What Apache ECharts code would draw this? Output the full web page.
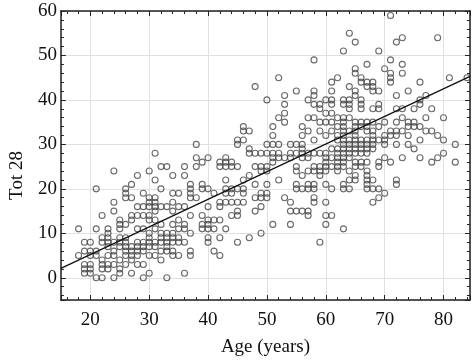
<!DOCTYPE html>
<html>
<head>
<meta charset="utf-8">
<script src="https://cdn.jsdelivr.net/npm/echarts@6/dist/echarts.min.js"></script>
<style>
html,body{margin:0;padding:0;background:#fff;}
#chart{width:474px;height:362px;}
</style>
</head>
<body>
<div id="chart"></div>
<script>
// ---- data ----
const xTickLabels = ['20','30','40','50','60','70','80'];
const yTickLabels = ['0','10','20','30','40','50','60'];

const ages18to29 = [18,19,20,21,22,23,24,25,26,27,28,29];
const tot18to29 = [
  [11,5],
  [8,6,3,2,1],
  [8,6,5,3,2,1],
  [20,11,6,5,0],
  [14,9,8,4,3,2,0],
  [11,10,9,8,7,5,3,2],
  [24,17,15,8,6,5,3,0],
  [13,12,11,9,8,7,4,2,1],
  [20,19,18,12,9,8,7,6,5,3],
  [21,18,14,13,7,6,5,4,1],
  [23,16,14,11,8,7,6,5,3],
  [19,16,14,11,8,7,6,3,0]
];
const ages30to41 = [30,31,32,33,34,35,36,37,38,39,40,41];
const tot30to41 = [
  [24,18,17,16,14,13,10,9,8,7,5,1],
  [28,22,18,17,16,15,13,11,8,7,5],
  [25,20,16,12,10,9,8,6,4],
  [25,16,10,9,8,7,6,0],
  [23,19,17,15,12,10,9,8,6,5],
  [19,16,13,11,9,8,5],
  [25,23,16,12,11,8,1],
  [21,20,19,18,14,10,6,5],
  [30,27,25,18],
  [26,21,20,14,12,11],
  [27,20,16,13,12,11,9,8],
  [19,13,11,6]
];
const ages42to53 = [42,43,44,45,46,47,48,49,50,51,52,53];
const tot42to53 = [
  [26,25,17,16,13,9,5],
  [27,26,25,22,20,19,17,11],
  [26,25,20,19,17,14],
  [31,30,25,20,17,15,14,8],
  [34,33,31,22,20,19,17],
  [33,29,28,23,9],
  [43,28,25,21,18,15],
  [28,25,24,19,18,16,10],
  [40,30,28,25,24,21,19,18],
  [34,32,30,28,27,26,12],
  [45,36,30,28,27,22],
  [41,39,37,35,27,18]
];
const ages54to65 = [54,55,56,57,58,59,60,61,62,63,64,65];
const tot54to65 = [
  [30,28,27,17,15,12],
  [42,30,28,25,24,21,20,15],
  [34,32,30,29,28,27,23,20,15],
  [40,36,33,28,27,24,21,20,15,14],
  [49,42,41,39,36,31,28,25,24,21,20,18,17],
  [39,38,35,33,28,25,24,23,8],
  [40,37,35,32,28,27,26,25,24,21,17,14,12],
  [44,42,40,39,37,35,33,29,27,25,20,14],
  [45,36,34,32,31,29,28,27,26,25,24],
  [51,40,39,36,35,34,33,32,31,30,29,28,27,26,25,21,20,11],
  [55,43,40,39,38,36,33,31,30,29,28,27,24,22,20],
  [53,47,46,42,41,35,34,33,32,31,30,29,28,26,25,23,22]
];
const ages66to84 = [66,67,68,69,70,71,72,73,74,75,76,77,78,79,80,81,82,84];
const tot66to84 = [
  [45,44,40,39,38,35,34,31,30,29,28,26,25],
  [48,44,43,35,34,33,31,30,29,28,26,24,23,22,21,20],
  [44,43,42,38,35,33,32,31,30,29,22,20,17],
  [51,42,39,38,34,31,26,25,20,18],
  [47,35,32,31,30,27,19],
  [59,49,46,45,44,33,32,26],
  [53,41,38,35,33,32,30,22,21],
  [54,48,46,38,36,33,27],
  [42,35,34,32,30],
  [38,35,34,29],
  [44,40,39,34,31,27],
  [41,36,33],
  [38,33,26],
  [54,32,27],
  [36,31,28],
  [45],
  [30,26],
  [45]
];
// regression line end points
const fitAge = [15, 84.5];
const fitTot = [2.1, 45.3];

// ---- build ----
function pairs(ages, tots){
  const out = [];
  ages.forEach((a,i)=>tots[i].forEach(t=>out.push([a,t])));
  return out;
}
const scatterData = [].concat(
  pairs(ages18to29, tot18to29),
  pairs(ages30to41, tot30to41),
  pairs(ages42to53, tot42to53),
  pairs(ages54to65, tot54to65),
  pairs(ages66to84, tot66to84)
);
const lineData = fitAge.map((a,i)=>[a, fitTot[i]]);

const FONT = '"Liberation Serif", "DejaVu Serif", serif';
const boxColor = '#222';
function xAx(pos, show){
  return {
    type:'value', position:pos, min:15, max:84.5, splitNumber:5,
    axisLine:{show:true, onZero:false, lineStyle:{color:boxColor, width:1.5}},
    axisTick:{show:true, inside:true, length:5, lineStyle:{color:boxColor}},
    minorTick:{show:true, splitNumber:5, length:3, lineStyle:{color:boxColor}},
    axisLabel:{show:show, showMinLabel:false, showMaxLabel:false, margin:11,
      color:'#111', fontFamily:FONT, fontSize:19,
      formatter:v=> xTickLabels.includes(String(v)) ? String(v) : ''},
    splitLine:{show:show, lineStyle:{color:'#e0e0e0', width:1}},
    name: show ? 'Age (years)' : '', nameLocation:'middle', nameGap:38,
    nameTextStyle:{color:'#111', fontFamily:FONT, fontSize:19}
  };
}
function yAx(pos, show){
  return {
    type:'value', position:pos, min:-5, max:60, splitNumber:5,
    axisLine:{show:true, onZero:false, lineStyle:{color:boxColor, width:1.5}},
    axisTick:{show:true, inside:true, length:5, lineStyle:{color:boxColor}},
    minorTick:{show:true, splitNumber:5, length:3, lineStyle:{color:boxColor}},
    axisLabel:{show:show, showMinLabel:false, margin:4,
      color:'#111', fontFamily:FONT, fontSize:19,
      formatter:v=> yTickLabels.includes(String(v)) ? String(v) : ''},
    splitLine:{show:show, lineStyle:{color:'#e0e0e0', width:1}},
    name: show ? 'Tot 28' : '', nameLocation:'middle', nameGap:28, nameRotate:90,
    nameTextStyle:{color:'#111', fontFamily:FONT, fontSize:19, padding:[0,0,0,-40]}
  };
}

const chart = echarts.init(document.getElementById('chart'), null, {renderer:'canvas'});
chart.setOption({
  animation:false,
  backgroundColor:'#fff',
  grid:{left:46, right:4, top:11, bottom:46, containLabel:false},
  xAxis:[xAx('bottom', true), xAx('top', false)],
  yAxis:[yAx('left', true), yAx('right', false)],
  series:[
    {type:'scatter', xAxisIndex:0, yAxisIndex:0, data:scatterData,
     symbol:'circle', symbolSize:6,
     itemStyle:{color:'rgba(255,255,255,0)', borderColor:'#444', borderWidth:1.1}},
    {type:'line', xAxisIndex:0, yAxisIndex:0, data:lineData, symbol:'none', z:5,
     lineStyle:{color:'#111', width:1.3}}
  ]
});
</script>
</body>
</html>
